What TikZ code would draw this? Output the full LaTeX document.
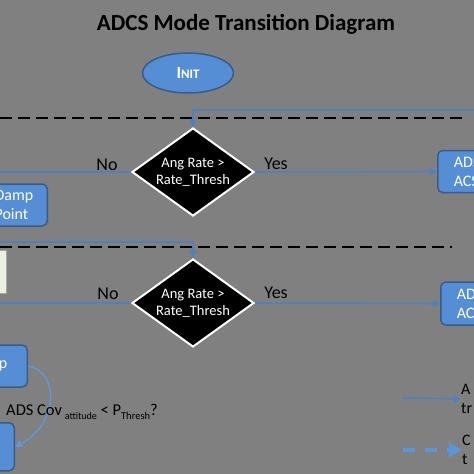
\documentclass[tikz,border=0pt]{standalone}
\usepackage{fontspec}
\setmainfont{Carlito}
\usetikzlibrary{arrows.meta,shapes.geometric}
\definecolor{bg}{RGB}{128,128,128}
\definecolor{boxblue}{RGB}{85,142,213}
\definecolor{boxedge}{RGB}{56,93,138}
\definecolor{lineblue}{RGB}{79,129,189}
\definecolor{curveblue}{RGB}{100,150,215}
\definecolor{greenbox}{RGB}{235,241,222}
\definecolor{legblue}{RGB}{91,150,220}
\tikzset{
  modebox/.style={draw=boxedge, fill=boxblue, line width=1.5pt, rounded corners=5pt,
    text=white, font=\fontsize{16}{19}\selectfont, inner ysep=0pt, minimum height=42pt},
  decision/.style={diamond, draw=white, fill=black, line width=2pt, text=white,
    font=\fontsize{14.5}{17}\selectfont, align=center, aspect=1.4, inner sep=0pt,
    minimum width=122pt, minimum height=88pt},
  flow/.style={draw=lineblue, line width=1.6pt, -{Triangle[length=7pt,width=7pt]}},
  flowline/.style={draw=lineblue, line width=1.6pt},
  sepline/.style={draw=black, line width=1.8pt, dash pattern=on 12pt off 6pt},
  lbl/.style={text=black, font=\fontsize{18}{21}\selectfont, inner sep=0pt},
}
\begin{document}
\begin{tikzpicture}[x=1pt,y=-1pt]
\fill[bg] (0,0) rectangle (474,474);
\useasboundingbox (0,0) rectangle (474,474);
\clip (0,0) rectangle (474,474);

% title
\node[font=\fontsize{23}{26}\selectfont\bfseries, text=black] (title) at (246,24) {ADCS Mode Transition Diagram};

% init
\node[ellipse, draw=boxedge, fill=boxblue, line width=1.5pt, minimum width=91pt, minimum height=40pt, inner sep=0pt, text=white, font=\bfseries] (init) at (188,73)
  {{\fontsize{17}{17}\selectfont I}{\fontsize{13}{13}\selectfont NIT}};

% separators
\coordinate (s1a) at (0,118);
\coordinate (s1b) at (465,118);
\draw[sepline] (s1a) -- (s1b);
\coordinate (s2a) at (0,247);
\coordinate (s2b) at (452,247);
\draw[sepline] (s2a) -- (s2b);

% decisions
\node[decision] (d1) at (193,172) {Ang Rate >\\Rate\_Thresh};
\node[decision] (d2) at (193,303) {Ang Rate >\\Rate\_Thresh};

% mode boxes
\node[modebox, anchor=west, text width=60pt, align=left, inner xsep=16pt] (ads1) at (437,171.5) {ADS\\ACS};
\node[modebox, anchor=west, text width=60pt, align=left, inner xsep=16pt, minimum height=43pt] (ads2) at (440,303.5) {ADS\\ACS};
\node[modebox, anchor=east, text width=40pt, align=right, inner xsep=14pt] (damp) at (48,205) {Damp\\Point\hspace*{5pt}};
\node[modebox, anchor=east, text width=20pt, align=right, inner xsep=20pt] (pbox) at (28,366) {p};
\node[modebox, anchor=north east, minimum width=40pt, minimum height=48pt] (bbox) at (15,422) {};
\node[draw=gray!70, fill=greenbox, line width=0.8pt, minimum width=20pt, minimum height=43pt, anchor=east, inner sep=0pt] (green) at (7,271.5) {};

% connectors
\coordinate (in1) at (474,110);
\draw[flow] (in1) -| (d1.north);
\coordinate (no1) at (0,172);
\draw[flowline] (d1.west) -- (no1);
\draw[flow] (d1.east) -- (ads1.west);

\coordinate (in2) at (0,242);
\draw[flow] (in2) -| (d2.north);
\coordinate (no2) at (0,303);
\draw[flowline] (d2.west) -- (no2);
\draw[flow] (d2.east) -- (ads2.west);

\draw[draw=curveblue, line width=1.5pt, -{Triangle[length=7pt,width=7pt]}]
  (pbox.east) .. controls +(35,8) and +(40,-20) .. (bbox.east);

% labels
\node[lbl] (no1l) at (107,165) {No};
\node[lbl] (yes1l) at (276,164) {Yes};
\node[lbl] (no2l) at (108,294) {No};
\node[lbl] (yes2l) at (276,293) {Yes};
\node[lbl, anchor=west, font=\fontsize{16.5}{19}\selectfont] (cov) at (6,412)
  {ADS Cov\,\raisebox{-3.5pt}{\fontsize{10}{10}\selectfont attitude} < P\raisebox{-3.5pt}{\fontsize{10.5}{10}\selectfont Thresh}?};

% legend
\node[lbl, anchor=west, align=left, font=\fontsize{16}{19}\selectfont] (leg1) at (461,399) {A\\tr};
\node[lbl, anchor=west, align=left, font=\fontsize{16}{19}\selectfont] (leg2) at (462,450) {C\\t};
\coordinate (l1a) at (402,398);
\draw[flow] (l1a) -- (leg1.west);
\coordinate (l2a) at (403,450);
\draw[draw=legblue, line width=3.5pt, dash pattern=on 12pt off 10pt, -{Triangle[length=13pt,width=14pt]}] (l2a) -- (leg2.west);
\end{tikzpicture}
\end{document}
